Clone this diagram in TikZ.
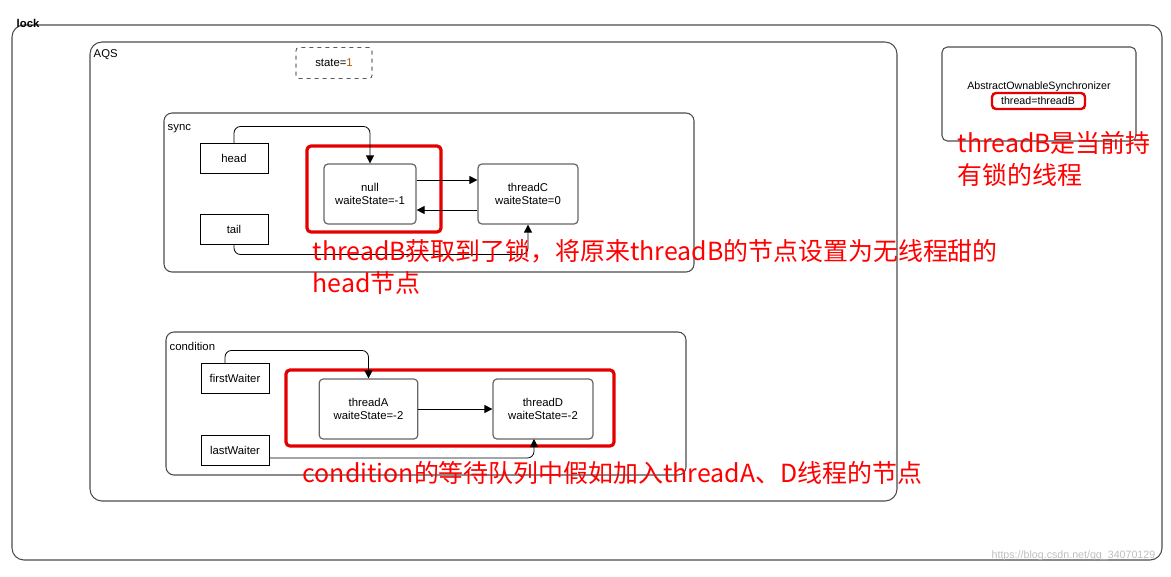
\documentclass[tikz,border=0pt]{standalone}
\usepackage{fontspec}
\setmainfont{Liberation Sans}
\newfontfamily\cjk{Noto Sans CJK SC}
\usetikzlibrary{arrows.meta}
\begin{document}
\begin{tikzpicture}[x=0.75pt,y=-0.75pt,
  cont/.style={draw=black!70,rounded corners=9pt,line width=0.8pt},
  box/.style={draw,line width=0.6pt},
  nbox/.style={draw=black!60,rounded corners=3pt,line width=0.9pt,align=center,font=\fontsize{8.5}{10}\selectfont},
  redb/.style={draw=red!90!black,line width=2.4pt,rounded corners=3pt},
  lbl/.style={font=\fontsize{8.5}{10}\selectfont,anchor=west},
  redt/.style={text=red,font=\cjk\fontsize{18.7}{22}\selectfont,anchor=west},
  ar/.style={-{Triangle[length=6pt,width=6pt]},rounded corners=5pt,line width=0.6pt}]
\useasboundingbox (0,0) rectangle (1171,576);
\fill[white] (0,0) rectangle (1171,576);
\draw[cont] (12,25) rectangle (1162,560);
\node[lbl,font=\bfseries\fontsize{8.5}{10}\selectfont] (lockl) at (12,23) {lock};
\draw[cont] (90,42) rectangle (897,501);
\node[lbl] (aqsl) at (89,55) {AQS};
\node[draw,dashed,rounded corners=2pt,minimum width=57pt,minimum height=23pt,font=\fontsize{8.5}{10}\selectfont] (state) at (334,63) {state=\textcolor{orange!70!black}{1}};
\draw[cont,rounded corners=4pt] (942,47) rectangle (1136,141);
\node[font=\fontsize{8}{10}\selectfont] (aos) at (1039,87) {AbstractOwnableSynchronizer};
\node[font=\fontsize{8}{10}\selectfont] (thb) at (1038,101) {thread=threadB};
\draw[redb,line width=1.8pt] (992,93) rectangle (1085,109);
\node[redt] (t1) at (953,143) {threadB是当前持};
\node[redt] (t2) at (953,175) {有锁的线程};
% sync
\draw[cont,rounded corners=6pt] (164,113) rectangle (694,272);
\node[lbl] (syncl) at (163,129) {sync};
\node[box,minimum width=51pt,minimum height=22pt,font=\fontsize{8.5}{10}\selectfont] (head) at (234,158.5) {head};
\node[box,minimum width=51pt,minimum height=22pt,font=\fontsize{8.5}{10}\selectfont] (tail) at (234,229.5) {tail};
\node[nbox,minimum width=69pt,minimum height=45pt] (null) at (370,194) {null\\waiteState=-1};
\node[nbox,minimum width=75pt,minimum height=45pt] (thC) at (528,194) {threadC\\waiteState=0};
\draw[redb] (307,146) rectangle (441,232);
\draw[ar] (head.north) -- ++(0,-17) -| (null.north);
\draw[ar] (null.east|-0,180) -- (thC.west|-0,180);
\draw[ar] (thC.west|-0,210) -- (null.east|-0,210);
\draw[ar] (tail.south) -- ++(0,10) -| (thC.south);
\node[redt] (r1) at (308,251) {threadB获取到了锁，将原来threadB的节点设置为无线程甜的};
\node[redt] (r2) at (308,283) {head节点};
% condition
\draw[cont,rounded corners=6pt] (166,332) rectangle (686,475);
\node[lbl] (condl) at (165,346) {condition};
\node[box,minimum width=51pt,minimum height=22pt,font=\fontsize{8.5}{10}\selectfont] (fw) at (235,378.5) {firstWaiter};
\node[box,minimum width=51pt,minimum height=22pt,font=\fontsize{8.5}{10}\selectfont] (lw) at (235,450.5) {lastWaiter};
\node[nbox,minimum width=74pt,minimum height=45pt] (thA) at (368.5,409) {threadA\\waiteState=-2};
\node[nbox,minimum width=75pt,minimum height=45pt] (thD) at (543,409) {threadD\\waiteState=-2};
\draw[redb] (286,370) rectangle (614,446);
\draw[ar] (fw.north-|225,0) -- ++(0,-13) -| (thA.north);
\draw[ar] (thA.east) -- (thD.west);
\draw[ar] (lw.east|-0,458) -| (534,439);
\node[redt] (r3) at (298,473) {condition的等待队列中假如加入threadA、D线程的节点};
\node[text=black!25,font=\fontsize{8}{10}\selectfont,anchor=east] (wm) at (1160,556) {https://blog.csdn.net/qq\_34070129};
\end{tikzpicture}
\end{document}
